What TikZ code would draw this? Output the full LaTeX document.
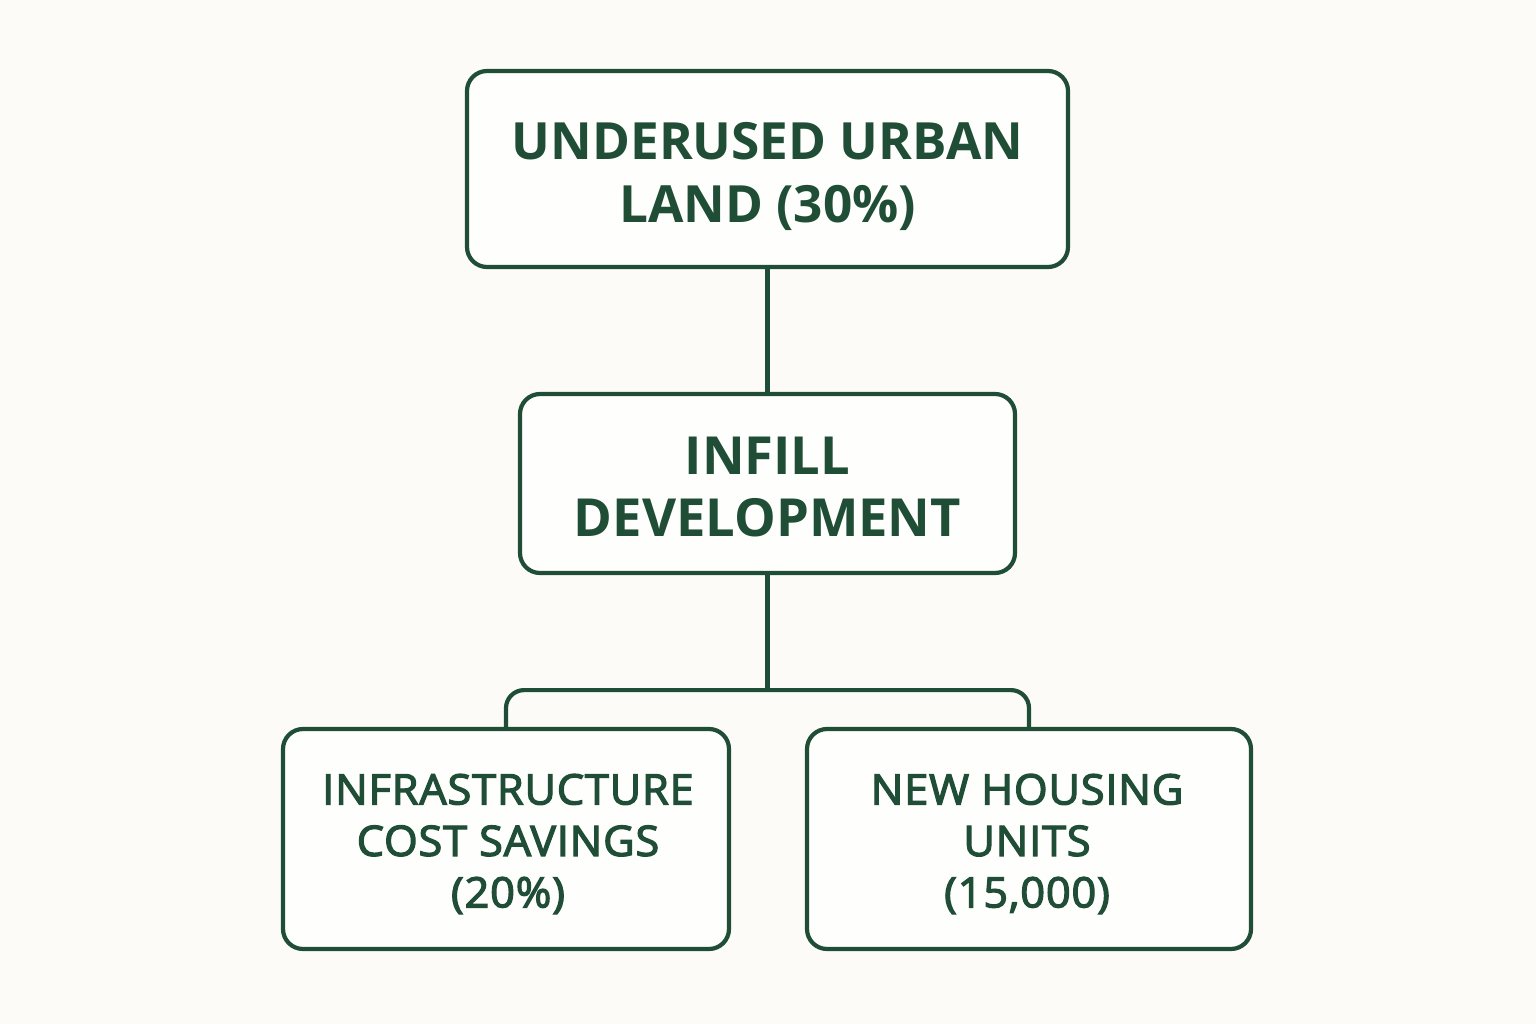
\documentclass[tikz,border=0pt]{standalone}
\usepackage{fontspec}
\setmainfont{Open Sans}
\newfontfamily\medfont[FakeBold=3,FakeStretch=1.03,LetterSpace=2]{Open Sans}
\definecolor{dgreen}{HTML}{1F4D36}
\definecolor{bgc}{HTML}{FCFBF8}
\begin{document}
\begin{tikzpicture}[x=1pt,y=-1pt,
  box/.style={draw=dgreen, line width=4.2pt, rounded corners=20pt, fill=white!70!bgc, inner sep=0pt},
  txt/.style={text=dgreen, align=center, inner sep=0pt},
  conn/.style={draw=dgreen, line width=4.2pt}]
\fill[bgc] (0,0) rectangle (1536,1024);
\useasboundingbox (0,0) rectangle (1536,1024);
\node[box, minimum width=601pt, minimum height=196pt] (top) at (767.5,169) {};
\node[txt, font=\fontsize{51.3}{63}\selectfont\bfseries] (toptext) at (767.5,176) {UNDERUSED URBAN\\LAND (30\%)};
\node[box, minimum width=495pt, minimum height=179pt] (mid) at (767.5,483.5) {};
\node[txt, font=\fontsize{52.5}{62}\selectfont\bfseries] (midtext) at (767.5,487) {INFILL\\DEVELOPMENT};
\node[box, minimum width=446pt, minimum height=220pt] (bl) at (506,839) {};
\node[txt, font=\fontsize{42}{51.5}\selectfont\medfont] (bltext) at (508,844) {INFRASTRUCTURE\\COST SAVINGS\\(20\%)};
\node[box, minimum width=444pt, minimum height=220pt] (br) at (1029,839) {};
\node[txt, font=\fontsize{42}{51.5}\selectfont\medfont] (brtext) at (1027,844) {NEW HOUSING\\UNITS\\(15,000)};
\draw[conn] (top.south) -- (mid.north);
\draw[conn] (mid.south) -- ++(0,115) coordinate (j);
\draw[conn, rounded corners=18pt] (bl.north) |- (j) -| (br.north);
\end{tikzpicture}
\end{document}
